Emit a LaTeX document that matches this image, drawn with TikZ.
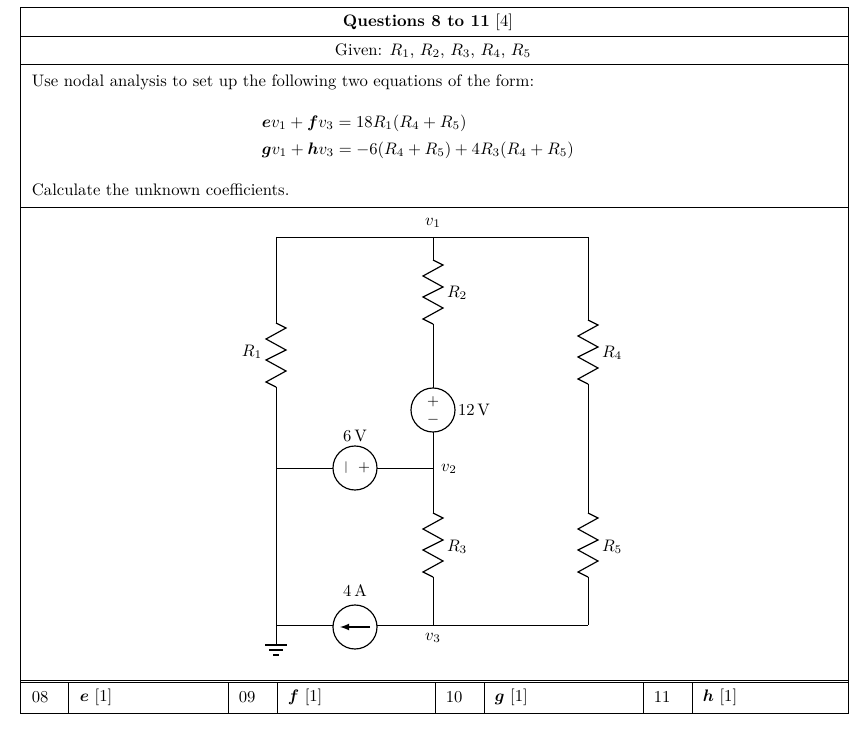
\documentclass[tikz,border=0pt]{standalone}
\usepackage{amsmath,bm}
\begin{document}
\begin{tikzpicture}[x=0.6pt,y=-0.6pt,
  w/.style={line width=0.5pt},
  src/.style={draw,circle,minimum size=26.4pt,inner sep=0pt,fill=white,line width=0.7pt},
  lbl/.style={inner sep=1pt}]
\useasboundingbox (0,0) rectangle (868,732);
% table
\draw[line width=0.6pt] (20,8) rectangle (848,713);
\foreach \y in {37,65,208,680} \draw[line width=0.6pt] (20,\y) -- (848,\y);
\draw[line width=0.6pt] (20,682) -- (848,682);
\foreach \x in {68,228,277,435,484,643,692} \draw[line width=0.6pt] (\x,682) -- (\x,713);
\node (title) at (428,22) {\textbf{Questions 8 to 11} [4]};
\node (given) at (433,51) {Given: $R_1$, $R_2$, $R_3$, $R_4$, $R_5$};
\node[anchor=west] (use) at (26,82) {Use nodal analysis to set up the following two equations of the form:};
\node[anchor=west] (eq1) at (256,123) {$\bm{e}v_1+\bm{f}v_3=18R_1(R_4+R_5)$};
\node[anchor=west] (eq2) at (256,150) {$\bm{g}v_1+\bm{h}v_3=-6(R_4+R_5)+4R_3(R_4+R_5)$};
\node[anchor=west] (calc) at (26,190) {Calculate the unknown coefficients.};
\node[anchor=west] (c08) at (26,697) {08};
\node[anchor=west] (ce) at (74,697) {$\bm{e}$ [1]};
\node[anchor=west] (c09) at (233,697) {09};
\node[anchor=west] (cf) at (282,697) {$\bm{f}$ [1]};
\node[anchor=west] (c10) at (440,697) {10};
\node[anchor=west] (cg) at (489,697) {$\bm{g}$ [1]};
\node[anchor=west] (c11) at (648,697) {11};
\node[anchor=west] (ch) at (697,697) {$\bm{h}$ [1]};
% circuit coordinates
\coordinate (tl) at (276,237); \coordinate (tm) at (433,237); \coordinate (tr) at (588,237);
\coordinate (bl) at (276,625); \coordinate (bm) at (433,625); \coordinate (br) at (588,625);
\coordinate (ml) at (276,468); \coordinate (v2) at (433,468);
\coordinate (gnd) at (276,645);
\draw[w] (tl) -- (tr);
\draw[w] (bl) -- (br);
\draw[w] (ml) -- (v2);
\draw[w] (tl) -- (gnd);
\draw[w] (tm) -- (bm);
\draw[w] (tr) -- (br);
% resistors: zigzag with white background
\foreach \cx/\cy/\nm in {276/355/r1,433/292/r2,433/545/r3,588/352/r4,588/545/r5}{
  \fill[white] (\cx-12,\cy-32) rectangle (\cx+12,\cy+32);
  \draw[line width=0.7pt] (\cx,\cy-32) -- (\cx+10,\cy-27) -- (\cx-10,\cy-16) -- (\cx+10,\cy-5) -- (\cx-10,\cy+5) -- (\cx+10,\cy+16) -- (\cx-10,\cy+27) -- (\cx,\cy+32);
}
\node[lbl,anchor=west] (R2) at (445,293) {$R_2$};
\node[lbl,anchor=west] (R3) at (445,547) {$R_3$};
\node[lbl,anchor=west] (R4) at (600,353) {$R_4$};
\node[lbl,anchor=west] (R5) at (600,547) {$R_5$};
\node[lbl,anchor=east] (R1) at (264,352) {$R_1$};
% sources
\node[src] (s12) at (433,410) {};
\node at (433,402) {\small$+$};
\node at (433,420) {\small$-$};
\node[lbl,anchor=west] (l12) at (456,410) {12\,V};
\node[src] (s6) at (355,468) {};
\node at (346,468) {\scriptsize$|$};
\node at (364,468) {\small$+$};
\node[lbl] (l6) at (355,436) {6\,V};
\node[src] (s4) at (355,627) {};
\draw[-latex,line width=0.9pt] (370,627) -- (340,627);
\node[lbl] (l4) at (355,591) {4\,A};
% node labels
\node[lbl] (nv1) at (433,223) {$v_1$};
\node[lbl] (nv2) at (449,469) {$v_2$};
\node[lbl] (nv3) at (433,638) {$v_3$};
% ground
\draw[line width=0.7pt] (265,645) -- (287,645);
\draw[line width=0.7pt] (269,650) -- (283,650);
\draw[line width=0.7pt] (273,655) -- (279,655);
\end{tikzpicture}
\end{document}
